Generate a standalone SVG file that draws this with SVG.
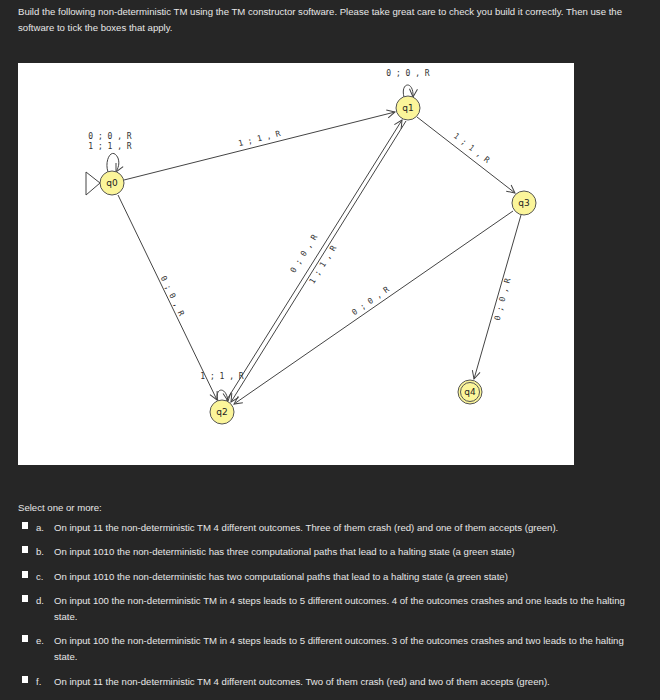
<svg xmlns="http://www.w3.org/2000/svg" width="660" height="700" viewBox="0 0 660 700">
<defs>
<marker id="ar" markerWidth="10" markerHeight="10" refX="9" refY="5" orient="auto" markerUnits="userSpaceOnUse"><path d="M1,1 L9,5 L1,9" fill="none" stroke="#444" stroke-width="1"/></marker>
</defs>
<style>
.t{font-family:"Liberation Sans",Arial,sans-serif;font-size:9.6px;fill:#e6e6e6}
.e{stroke:#444;stroke-width:1;fill:none;marker-end:url(#ar)}
.n{fill:#fbf59a;stroke:#555;stroke-width:1}
.nl{font-family:"DejaVu Sans",sans-serif;font-size:9px;fill:#222;text-anchor:middle}
.l{font-family:"DejaVu Sans Mono",monospace;font-size:8px;fill:#333;text-anchor:middle}
.cb{fill:#fff}
</style>
<rect width="660" height="700" fill="#262626"/>
<text class="t" x="18" y="15">Build the following non-deterministic TM using the TM constructor software.  Please take great care to check you build it correctly.  Then use the</text>
<text class="t" x="18" y="31">software to tick the boxes that apply.</text>
<rect x="18" y="63" width="556" height="402" fill="#fff"/>
<g id="connectors">
<path class="e" d="M108,172 C104,160 112,146 118,158 C120,164 118,168 116,172" />
<path class="e" d="M124,180 L395,112"/>
<path class="e" d="M404,97 C400,82 414,80 413,97"/>
<path class="e" d="M417,117 L515,193"/>
<path class="e" d="M118,195 L217,400"/>
<path class="e" d="M226,401 L402,120"/>
<path class="e" d="M406,121 L231,402"/>
<path class="e" d="M513,211 L234,404"/>
<path class="e" d="M521,215 L474,379"/>
<path class="e" d="M218,401 C214,388 226,385 228,401"/>
<polygon points="86,172 100,183 86,195" fill="#fff" stroke="#444"/>
<text class="l" x="110" y="139">0 ; 0 , R</text>
<text class="l" x="110" y="149">1 ; 1 , R</text>
<text class="l" x="260" y="141" transform="rotate(-14 260 141)">1 ; 1 , R</text>
<text class="l" x="408" y="76">0 ; 0 , R</text>
<text class="l" x="470" y="150" transform="rotate(38 470 150)">1 ; 1 , R</text>
<text class="l" x="170" y="297" transform="rotate(64 170 297)">0 ; 0 , R</text>
<text class="l" x="306" y="255" transform="rotate(-58 306 255)">0 ; 0 , R</text>
<text class="l" x="325" y="266" transform="rotate(-58 325 266)">1 ; 1 , R</text>
<text class="l" x="372" y="303" transform="rotate(-35 372 303)">0 ; 0 , R</text>
<text class="l" x="505" y="300" transform="rotate(-75 505 300)" fill="#999">0 ; 0 , R</text>
<text class="l" x="222" y="379">1 ; 1 , R</text>
</g>
<g id="q0"><circle class="n" cx="112" cy="183" r="12"/><text class="nl" x="112" y="186">q0</text></g>
<g id="q1"><circle class="n" cx="408" cy="108" r="12"/><text class="nl" x="408" y="111">q1</text></g>
<g id="q3"><circle class="n" cx="524" cy="203" r="12"/><text class="nl" x="524" y="206">q3</text></g>
<g id="q2"><circle class="n" cx="222" cy="412" r="12"/><text class="nl" x="222" y="415">q2</text></g>
<g id="q4"><circle class="n" cx="470" cy="392" r="12"/><circle cx="470" cy="392" r="9.5" fill="none" stroke="#555"/><text class="nl" x="470" y="395">q4</text></g>
<text class="t" x="18" y="511">Select one or more:</text>
<g>
<rect class="cb" x="22" y="522" width="6" height="7"/><text class="t" x="36" y="531">a.</text><text class="t" x="54" y="531">On input 11 the non-deterministic TM 4 different outcomes. Three of them crash (red) and one of them accepts (green).</text>
<rect class="cb" x="22" y="546" width="6" height="7"/><text class="t" x="36" y="555">b.</text><text class="t" x="54" y="555">On input 1010 the non-deterministic has three computational paths that lead to a halting state (a green state)</text>
<rect class="cb" x="22" y="571" width="6" height="7"/><text class="t" x="36" y="580">c.</text><text class="t" x="54" y="580">On input 1010 the non-deterministic has two computational paths that lead to a halting state (a green state)</text>
<rect class="cb" x="22" y="595" width="6" height="7"/><text class="t" x="36" y="604">d.</text><text class="t" x="54" y="604">On input 100 the non-deterministic TM in 4 steps leads to 5 different outcomes. 4 of the outcomes crashes and one leads to the halting</text><text class="t" x="54" y="620">state.</text>
<rect class="cb" x="22" y="635" width="6" height="7"/><text class="t" x="36" y="644">e.</text><text class="t" x="54" y="644">On input 100 the non-deterministic TM in 4 steps leads to 5 different outcomes. 3 of the outcomes crashes and two leads to the halting</text><text class="t" x="54" y="660">state.</text>
<rect class="cb" x="22" y="676" width="6" height="7"/><text class="t" x="36" y="685">f.</text><text class="t" x="54" y="685">On input 11 the non-deterministic TM 4 different outcomes. Two of them crash (red) and two of them accepts (green).</text>
</g>
</svg>
